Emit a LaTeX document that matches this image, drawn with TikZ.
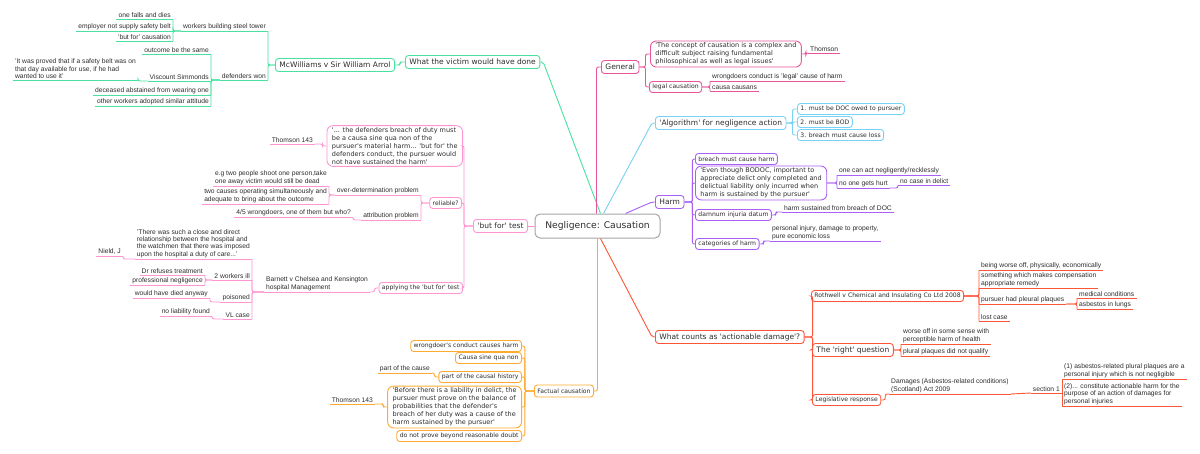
\documentclass[tikz,border=0pt]{standalone}
\usepackage{fontspec}
\setmainfont{Liberation Sans}
\newfontfamily\boxfont{DejaVu Sans}
\usetikzlibrary{calc}
\definecolor{txt}{RGB}{45,45,45}
\definecolor{gr}{RGB}{72,226,160}
\definecolor{pk}{RGB}{255,150,210}
\definecolor{gp}{RGB}{232,85,155}
\definecolor{bl}{RGB}{120,210,245}
\definecolor{pu}{RGB}{170,95,245}
\definecolor{og}{RGB}{255,170,50}
\definecolor{rd}{RGB}{255,85,55}
\definecolor{cg}{RGB}{165,165,165}
\begin{document}
\begin{tikzpicture}[x=1pt,y=-1pt,
  cbox/.style={draw=cg, fill=white, rounded corners=5pt, line width=1pt, text=txt,
    font=\boxfont\fontsize{9.2}{11}\selectfont, minimum width=125pt, minimum height=24pt},
  bx1/.style={fill=white, rounded corners=3pt, line width=0.9pt, text=txt,
    font=\boxfont\fontsize{7.5}{9}\selectfont, minimum height=13pt, inner xsep=4pt, inner ysep=0pt},
  bx2/.style={fill=white, rounded corners=3pt, line width=0.9pt, text=txt,
    font=\boxfont\fontsize{6.1}{7.3}\selectfont, minimum height=11pt, inner xsep=3pt, inner ysep=0pt},
  qbox/.style={fill=white, rounded corners=6pt, line width=0.9pt, text=txt, align=left,
    font=\boxfont\fontsize{6.5}{7.9}\selectfont, inner xsep=5pt, inner ysep=2pt},
  lab/.style={font=\fontsize{6.7}{7.4}\selectfont, text=txt, inner xsep=2pt, inner ysep=1.2pt, align=left},
  con/.style={line width=0.9pt, rounded corners=2pt},
  ul/.style={line width=0.9pt}]
\useasboundingbox[fill=white] (0,0) rectangle (1200,453);

% centre
\node[cbox] (c) at (597.5,226) {Negligence: Causation};

% ---------------- GREEN
\node[bx1, draw=gr, anchor=west] (victim) at (405,62) {What the victim would have done};
\node[bx1, draw=gr, anchor=east] (mcw) at (395,65) {McWilliams v Sir William Arrol};
\node[lab, anchor=south east] (wbst) at (268,31) {workers building steel tower};
\node[lab, anchor=south east] (g1) at (173,19) {one falls and dies};
\node[lab, anchor=south east] (g2) at (173,31) {employer not supply safety belt};
\node[lab, anchor=south east] (g3) at (173,41) {'but for' causation};
\node[lab, anchor=south east] (dw) at (268,80) {defenders won};
\node[lab, anchor=south east] (g4) at (211,54) {outcome be the same};
\node[lab, anchor=south east] (vs) at (211,81) {Viscount Simmonds};
\node[lab, anchor=south east] (g5) at (138,80) {'It was proved that if a safety belt was on\\that day available for use, if he had\\wanted to use it'};
\node[lab, anchor=south east] (g6) at (211,95) {deceased abstained from wearing one};
\node[lab, anchor=south east] (g7) at (211,106) {other workers adopted similar attitude};

\draw[con,gr] (victim.east) -- ++(3,0) -- ([xshift=3pt]c.north);
\draw[con,gr] (mcw.east) -- ++(5,0) |- (victim.west);
\draw[con,gr] (mcw.west) -| (wbst.south east);
\draw[con,gr] (mcw.west) -| (dw.south east);
\foreach \n in {g1,g2,g3} \draw[con,gr] (wbst.south west) -| (\n.south east);
\foreach \n in {g4,vs,g6,g7} \draw[con,gr] (dw.south west) -| (\n.south east);
\draw[con,gr] (vs.south west) -| (g5.south east);
\foreach \n in {wbst,g1,g2,g3,dw,g4,vs,g5,g6,g7} \draw[ul,gr] (\n.south west) -- (\n.south east);

% ---------------- LIGHT PINK
\node[bx1, draw=pk, anchor=east] (bft) at (528,226) {'but for' test};
\node[qbox, draw=pk, anchor=east] (q1) at (463,146) {'... the defenders breach of duty must\\be a causa sine qua non of the\\pursuer's material harm... 'but for' the\\defenders conduct, the pursuer would\\not have sustained the harm'};
\node[lab, anchor=south east] (th1) at (315,144) {Thomson 143};
\node[bx2, draw=pk, anchor=east] (rel) at (462,203) {reliable?};
\node[lab, anchor=south east] (od) at (421,195) {over-determination problem};
\node[lab, anchor=south east] (p1) at (329,186) {e.g two people shoot one person,take\\one away victim would still be dead};
\node[lab, anchor=south east] (p2) at (329,204) {two causes operating simultaneously and\\adequate to bring about the outcome};
\node[lab, anchor=south east] (attr) at (421,220) {attribution problem};
\node[lab, anchor=south east] (p3) at (353,217) {4/5 wrongdoers, one of them but who?};
\node[bx2, draw=pk, anchor=east] (app) at (463,288) {applying the 'but for' test};
\node[lab, anchor=south east] (barn) at (370,292) {Barnett v Chelsea and Kensington\\hospital Management};
\node[lab, anchor=south east] (nq) at (252,259) {'There was such a close and direct\\relationship between the hospital and\\the watchmen that there was imposed\\upon the hospital a duty of care...'};
\node[lab, anchor=south east] (nj) at (123,256) {Nield, J};
\node[lab, anchor=south east] (w2) at (252,280) {2 workers ill};
\node[lab, anchor=south east] (p4) at (205,275) {Dr refuses treatment};
\node[lab, anchor=south east] (p5) at (205,285) {professional negligence};
\node[lab, anchor=south east] (pois) at (252,302) {poisoned};
\node[lab, anchor=south east] (p6) at (210,298) {would have died anyway};
\node[lab, anchor=south east] (vl) at (252,319) {VL case};
\node[lab, anchor=south east] (p7) at (212,316) {no liability found};

\draw[con,pk] (c.west) -- (bft.east);
\foreach \n in {q1,rel,app} \draw[con,pk] (bft.west) -- ++(-9,0) |- (\n.east);
\draw[con,pk] (q1.west) -- ++(-4,0) |- (th1.south east);
\foreach \n in {od,attr} \draw[con,pk] (rel.west) -| (\n.south east);
\foreach \n in {p1,p2} \draw[con,pk] (od.south west) -| (\n.south east);
\draw[con,pk] (attr.south west) -| (p3.south east);
\draw[con,pk] (app.west) -- ++(-4,0) |- (barn.south east);
\foreach \n in {nq,w2,pois,vl} \draw[con,pk] (barn.south west) -| (\n.south east);
\draw[con,pk] (nq.south west) -| (nj.south east);
\foreach \n in {p4,p5} \draw[con,pk] (w2.south west) -| (\n.south east);
\draw[con,pk] (pois.south west) -| (p6.south east);
\draw[con,pk] (vl.south west) -| (p7.south east);
\foreach \n in {th1,od,p1,p2,attr,p3,barn,nq,nj,w2,p4,p5,pois,p6,vl,p7} \draw[ul,pk] (\n.south west) -- (\n.south east);

% ---------------- ORANGE
\node[bx2, draw=og, anchor=east, minimum height=12pt] (fc) at (594,391) {Factual causation};
\node[bx2, draw=og, anchor=east] (o1) at (522,346) {wrongdoer's conduct causes harm};
\node[bx2, draw=og, anchor=east] (o2) at (522,358) {Causa sine qua non};
\node[bx2, draw=og, anchor=east] (o3) at (522,377) {part of the causal history};
\node[qbox, draw=og, anchor=east] (q2) at (522,407) {'Before there is a liability in delict, the\\pursuer must prove on the balance of\\probabilities that the defender's\\breach of her duty was a cause of the\\harm sustained by the pursuer'};
\node[bx2, draw=og, anchor=east] (o4) at (522,436) {do not prove beyond reasonable doubt};
\node[lab, anchor=south east] (o5) at (432,373) {part of the cause};
\node[lab, anchor=south east] (th2) at (375,404) {Thomson 143};

\draw[con,og] (c.south) |- (fc.east);
\foreach \n in {o1,o2,o3,q2,o4} \draw[con,og] (fc.west) -- ++(-9,0) |- (\n.east);
\draw[con,og] (o3.west) -- ++(-4,0) |- (o5.south east);
\draw[con,og] (q2.west) -- ++(-4,0) |- (th2.south east);
\foreach \n in {o5,th2} \draw[ul,og] (\n.south west) -- (\n.south east);

% ---------------- GENERAL (deep pink)
\node[bx1, draw=gp, anchor=west] (gen) at (601,67) {General};
\node[qbox, draw=gp, anchor=west] (q3) at (650,54) {'The concept of causation is a complex and\\difficult subject raising fundamental\\philosophical as well as legal issues'};
\node[lab, anchor=south west] (thg) at (808,53) {Thomson};
\node[bx2, draw=gp, anchor=west] (lc) at (649,87) {legal causation};
\node[lab, anchor=south west] (l1) at (710,81) {wrongdoers conduct is 'legal' cause of harm};
\node[lab, anchor=south west] (l2) at (710,91) {causa causans};

\draw[con,gp] ([xshift=-1pt]c.north) |- (gen.west);
\foreach \n in {q3,lc} \draw[con,gp] (gen.east) -- ++(6,0) |- (\n.west);
\draw[con,gp] (q3.east) -- ++(4,0) |- (thg.south west);
\foreach \n in {l1,l2} \draw[con,gp] (lc.east) -| (\n.south west);
\foreach \n in {thg,l1,l2} \draw[ul,gp] (\n.south west) -- (\n.south east);

% ---------------- BLUE
\node[bx1, draw=bl, anchor=west] (alg) at (655,123) {'Algorithm' for negligence action};
\node[bx2, draw=bl, anchor=west] (a1) at (797,109) {1. must be DOC owed to pursuer};
\node[bx2, draw=bl, anchor=west] (a2) at (797,122) {2. must be BOD};
\node[bx2, draw=bl, anchor=west] (a3) at (797,135) {3. breach must cause loss};
\draw[con,bl] ([xshift=6pt]c.north) -- ([xshift=-3pt]alg.west) -- (alg.west);
\foreach \n in {a1,a2,a3} \draw[con,bl] (alg.east) -- ++(6,0) |- (\n.west);

% ---------------- PURPLE
\node[bx1, draw=pu, anchor=west] (harm) at (655,202) {Harm};
\node[bx2, draw=pu, anchor=west] (h1) at (695,159) {breach must cause harm};
\node[qbox, draw=pu, anchor=west] (q4) at (695,183) {'Even though BODOC, important to\\appreciate delict only completed and\\delictual liability only incurred when\\harm is sustained by the pursuer'};
\node[bx2, draw=pu, anchor=west] (h2) at (695,215) {damnum injuria datum};
\node[bx2, draw=pu, anchor=west] (h3) at (695,244) {categories of harm};
\node[lab, anchor=south west] (h4) at (837,175) {one can act negligently/recklessly};
\node[lab, anchor=south west] (h5) at (837,188) {no one gets hurt};
\node[lab, anchor=south west] (h6) at (898,185) {no case in delict};
\node[lab, anchor=south west] (h7) at (782,212) {harm sustained from breach of DOC};
\node[lab, anchor=south west] (h8) at (770,241) {personal injury, damage to property,\\pure economic loss};

\draw[con,pu] ([xshift=28pt]c.north) -- ([xshift=-3pt]harm.west) -- (harm.west);
\foreach \n in {h1,q4,h2,h3} \draw[con,pu] (harm.east) -- ++(8,0) |- (\n.west);
\foreach \n in {h4,h5} \draw[con,pu] (q4.east) -| (\n.south west);
\draw[con,pu] (h5.south east) -| (h6.south west);
\draw[con,pu] (h2.east) -- ++(4,0) |- (h7.south west);
\draw[con,pu] (h3.east) -- ++(4,0) |- (h8.south west);
\foreach \n in {h4,h5,h6,h7,h8} \draw[ul,pu] (\n.south west) -- (\n.south east);

% ---------------- RED
\node[bx1, draw=rd, anchor=west] (wc) at (655,337) {What counts as 'actionable damage'?};
\node[bx2, draw=rd, anchor=west] (roth) at (811,296) {Rothwell v Chemical and Insulating Co Ltd 2008};
\node[bx1, draw=rd, anchor=west] (rq) at (812,350) {The 'right' question};
\node[bx2, draw=rd, anchor=west] (leg) at (812,400) {Legislative response};
\node[lab, anchor=south west] (r1) at (979,270) {being worse off, physically, economically};
\node[lab, anchor=south west] (r2) at (979,288) {something which makes compensation\\appropriate remedy};
\node[lab, anchor=south west] (r3) at (979,304) {pursuer had pleural plaques};
\node[lab, anchor=south west] (r4) at (979,321) {lost case};
\node[lab, anchor=south west] (r5) at (1077,298) {medical conditions};
\node[lab, anchor=south west] (r6) at (1077,309) {asbestos in lungs};
\node[lab, anchor=south west] (r7) at (901,344) {worse off in some sense with\\perceptible harm of health};
\node[lab, anchor=south west] (r8) at (901,356) {plural plaques did not qualify};
\node[lab, anchor=south west] (r9) at (889,394) {Damages (Asbestos-related conditions)\\(Scotland) Act 2009};
\node[lab, anchor=south east] (s1) at (1062,393) {section 1};
\node[lab, anchor=south west] (r10) at (1062,379) {(1) asbestos-related plural plaques are a\\personal injury which is not negligible};
\node[lab, anchor=south west] (r11) at (1062,406) {(2)... constitute actionable harm for the\\purpose of an action of damages for\\personal injuries};

\draw[con,rd] ([xshift=3pt]c.south) -- ([xshift=-3pt]wc.west) -- (wc.west);
\foreach \n in {roth,rq,leg} \draw[con,rd] (wc.east) -- ++(8,0) |- (\n.west);
\foreach \n in {r1,r2,r3,r4} \draw[con,rd] (roth.east) -| (\n.south west);
\foreach \n in {r5,r6} \draw[con,rd] (r3.south east) -| (\n.south west);
\foreach \n in {r7,r8} \draw[con,rd] (rq.east) -| (\n.south west);
\draw[con,rd] (leg.east) -- ++(4,0) |- (r9.south west);
\draw[con,rd] (r9.south east) -- (s1.south west);
\foreach \n in {r10,r11} \draw[con,rd] (s1.south east) -| (\n.south west);
\foreach \n in {r1,r2,r3,r4,r5,r6,r7,r8,r9,s1,r10,r11} \draw[ul,rd] (\n.south west) -- (\n.south east);
\end{tikzpicture}
\end{document}
